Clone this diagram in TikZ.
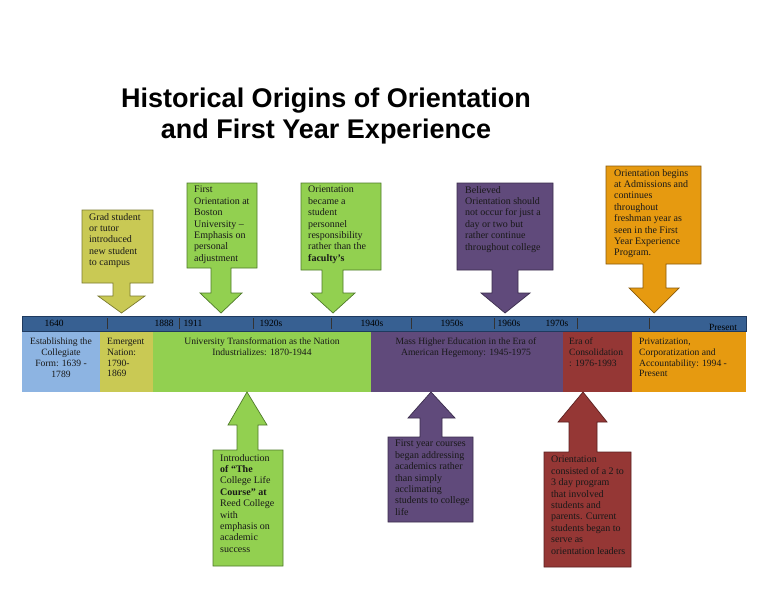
\documentclass[tikz,border=0pt]{standalone}
\usepackage{fontspec}
\setmainfont{Liberation Serif}
\newfontfamily\titlefont{Liberation Sans}
\begin{document}
\begin{tikzpicture}[x=1pt,y=-1pt,
  cbox/.style={line width=0.7pt},
  ctext/.style={anchor=north west,inner sep=0pt,align=left,font=\fontsize{10}{11.4}\selectfont,text=black!90},
  etext/.style={anchor=north,inner sep=0pt,font=\fontsize{9.6}{10.8}\selectfont,text=black!90},
  yr/.style={inner sep=0pt,font=\fontsize{9.5}{10}\selectfont,text=black},
  tick/.style={draw=black!80,line width=0.5pt}]
\definecolor{barblue}{HTML}{376092}
\definecolor{barline}{HTML}{1F3A5F}
\definecolor{eblue}{HTML}{8DB4E2}
\definecolor{olive}{HTML}{C9C954}
\definecolor{olived}{HTML}{7A7A30}
\definecolor{lgreen}{HTML}{92D050}
\definecolor{greend}{HTML}{4F7A2A}
\definecolor{purp}{HTML}{604A7B}
\definecolor{purpd}{HTML}{3A2C4C}
\definecolor{dred}{HTML}{953735}
\definecolor{dredd}{HTML}{5A2020}
\definecolor{orng}{HTML}{E69A10}
\definecolor{orngd}{HTML}{8A5A0A}
\useasboundingbox[fill=white] (0,0) rectangle (768,594);

% title
\node[inner sep=0pt,align=center,font=\titlefont\bfseries\fontsize{27}{31}\selectfont] (title) at (326,116) {Historical Origins of Orientation\\and First Year Experience};

% era band
\fill[eblue] (22,331) rectangle (100,392);
\fill[olive] (100,331) rectangle (153,392);
\fill[lgreen] (153,331) rectangle (371,392);
\fill[purp] (371,331) rectangle (563,392);
\fill[dred] (563,331) rectangle (632,392);
\fill[orng] (632,331) rectangle (746,392);

% timeline bar
\draw[fill=barblue,draw=barline,line width=0.8pt] (22,316) rectangle (746,331);
\foreach \t in {107,179,253,331,411,494,577,649}{\draw[tick] (\t,318) -- (\t,329);}
\node[yr] (y1640) at (54,323) {1640};
\node[yr] (y1888) at (164,323) {1888};
\node[yr] (y1911) at (193,323) {1911};
\node[yr] (y1920) at (271,323) {1920s};
\node[yr] (y1940) at (372,323) {1940s};
\node[yr] (y1950) at (452,323) {1950s};
\node[yr] (y1960) at (509,323) {1960s};
\node[yr] (y1970) at (557,323) {1970s};
\node[yr] (ypres) at (723,327) {Present};

% era texts
\node[etext,align=center] (e1) at (61,338) {Establishing the\\Collegiate\\Form: 1639 -\\1789};
\node[etext,align=left,anchor=north west] (e2) at (107,338) {Emergent\\Nation:\\1790-\\1869};
\node[etext,align=center] (e3) at (262,338) {University Transformation as the Nation\\Industrializes: 1870-1944};
\node[etext,align=center] (e4) at (466,338) {Mass Higher Education in the Era of\\American Hegemony: 1945-1975};
\node[etext,align=left,anchor=north west] (e5) at (569,338) {Era of\\Consolidation\\: 1976-1993};
\node[etext,align=left,anchor=north west] (e6) at (639,338) {Privatization,\\Corporatization and\\Accountability: 1994 -\\Present};

% down callouts
\draw[cbox,fill=olive,draw=olived] (82,210) -- (153,210) -- (153,283) -- (130,283) -- (130,296) -- (145,296) -- (121.5,313) -- (98,296) -- (113,296) -- (113,283) -- (82,283) -- cycle;
\node[ctext] (c1) at (89,213) {Grad student\\or tutor\\introduced\\new student\\to campus};

\draw[cbox,fill=lgreen,draw=greend] (187,183) -- (257,183) -- (257,268) -- (231,268) -- (231,293) -- (242,293) -- (221,313) -- (200,293) -- (211,293) -- (211,268) -- (187,268) -- cycle;
\node[ctext] (c2) at (194,186) {First\\Orientation at\\Boston\\University --\\Emphasis on\\personal\\adjustment};

\draw[cbox,fill=lgreen,draw=greend] (301,183) -- (381,183) -- (381,270) -- (343,270) -- (343,293) -- (355,293) -- (333,313) -- (311,293) -- (322,293) -- (322,270) -- (301,270) -- cycle;
\node[ctext] (c3) at (308,186) {Orientation\\became a\\student\\personnel\\responsibility\\rather than the\\\textbf{faculty's}};

\draw[cbox,fill=purp,draw=purpd] (457,183) -- (553,183) -- (553,270) -- (518,270) -- (518,293) -- (530,293) -- (505,313) -- (481,293) -- (492,293) -- (492,270) -- (457,270) -- cycle;
\node[ctext] (c4) at (465,186) {Believed\\Orientation should\\not occur for just a\\day or two but\\rather continue\\throughout college};

\draw[cbox,fill=orng,draw=orngd] (606,166) -- (701,166) -- (701,264) -- (666,264) -- (666,288) -- (679,288) -- (654,313) -- (629,288) -- (643,288) -- (643,264) -- (606,264) -- cycle;
\node[ctext] (c5) at (614,169) {Orientation begins\\at Admissions and\\continues\\throughout\\freshman year as\\seen in the First\\Year Experience\\Program.};

% up callouts
\draw[cbox,fill=lgreen,draw=greend] (213,450) -- (237,450) -- (237,425) -- (228,425) -- (247,392) -- (267,425) -- (258,425) -- (258,450) -- (283,450) -- (283,566) -- (213,566) -- cycle;
\node[ctext] (c6) at (220,454) {Introduction\\\textbf{of ``The}\\College Life\\\textbf{Course'' at}\\Reed College\\with\\emphasis on\\academic\\success};

\draw[cbox,fill=purp,draw=purpd] (388,437) -- (420,437) -- (420,418) -- (408,418) -- (431,392) -- (455,418) -- (442,418) -- (442,437) -- (473,437) -- (473,522) -- (388,522) -- cycle;
\node[ctext] (c7) at (395,440) {First year courses\\began addressing\\academics rather\\than simply\\acclimating\\students to college\\life};

\draw[cbox,fill=dred,draw=dredd] (544,452) -- (569,452) -- (569,422) -- (558,422) -- (583,392) -- (607,422) -- (597,422) -- (597,452) -- (631,452) -- (631,567) -- (544,567) -- cycle;
\node[ctext] (c8) at (551,456) {Orientation\\consisted of a 2 to\\3 day program\\that involved\\students and\\parents. Current\\students began to\\serve as\\orientation leaders};
\end{tikzpicture}
\end{document}
